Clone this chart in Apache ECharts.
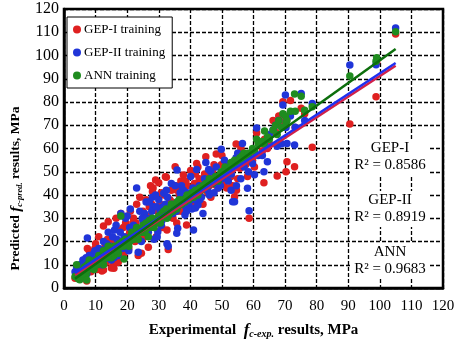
<!DOCTYPE html>
<html>
<head>
<meta charset="utf-8">
<script src="https://cdn.jsdelivr.net/npm/echarts@6/dist/echarts.min.js"></script>
<style>
html,body{margin:0;padding:0;background:#fff;}
#chart{width:474px;height:348px;}
</style>
</head>
<body>
<div id="chart"></div>
<script>
// Experimental compressive strength (x) shared by all three models
const expX = [
  3.5,4,4.5,5,5,5.5,6,6,6.5,7,
  7.2,7.4,7.6,8,8.5,9,9.5,10,10.5,11,
  11.5,12,12.5,12.5,13,13.5,14,14.5,15,15.4,
  15.8,16,16.5,17,17.2,17.5,18,18.5,19,19.5,
  20,20.5,21,21.5,22,22.5,23,23.5,24,24.5,
  25,25.5,26,26.7,27,27.4,28,28.2,28.5,29,
  29.5,29.7,30,30.5,31,31.6,32.1,32.4,32.6,33,
  33.5,34,34.5,35.2,35.7,35.8,36,36.5,37,37.8,
  38.3,38.8,39,39.5,40.1,40.5,41,41.6,42,42.4,
  43,43.5,44,44.9,45.5,46,47,48,48.2,48.8,
  49.5,49.8,50.5,51,52,52.9,53.4,54,54.5,54.6,
  55.7,56.5,57,58.1,58.4,58.6,59.7,59.7,60.3,61,
  61.5,62.8,63.3,63.5,64.4,65,66.2,67,67.5,68,
  68.9,69.3,70.1,70.3,70.6,71.7,73,73.2,75.1,76.2,
  78.6,90.5,98.8,99,105,
  5.8,8.8,10.8,13.2,14.8,16.8,18.8,20.8,22.8,24.8,
  26.5,27.8,29.2,30.8,32.8,34.2,35.5,37.2,38.6,40.8,
  42.8,44.5,46.5,47.5,50,51.5,53,55,56,57.5,
  9.8,13.8,17.8,21.8,25.8,31.3,36.8,41.3,45.8,50.8
];
const gep1Pred = [
  4.2,6,5,8,4,7,10,5,12,9,
  3,17,12.6,16,7,14,10,19,8,22,
  13,7.3,26.7,7.7,18,15,28.5,12,8.6,9.2,
  8.5,21,30,11,11.3,25,32,20,15,28,
  22,17,33,25,30,20,36,14,39,15,
  33,22,38,17.5,35,44,41.5,43,27,46.5,
  33,30,45.3,36,26,40,47.9,47.6,25,16.6,
  38,42,30,52.2,28,42,33,40,46,48.6,
  35,27.1,44,38,50.5,37,42,49,53.6,52,
  40,45,36,56.5,41,44,50,44.3,57.6,43,
  47,53,45,52,46,48,44,39.3,61.9,42,
  51.5,58.2,54,48,49.6,30,55,57,52,66.7,
  63,59,45.3,64,60,62,72,67,48.2,74,
  70,80.1,72,50,54.3,80.6,52.2,69,77.3,75,
  60.5,70.5,82.3,97,109.2,
  6,12,15,11,20,14,26,24,28,21,
  31,36,22,41,34,37,44,33,46,35,
  47,49,39,53,57,43,50,47,60,53,
  17,21,18,28,27,31,38,45,48,49
];
const gep2Pred = [
  7,9,6,10,5,8,12,7,9,13,
  6,21.5,11,14,10,12,15,13,11,17,
  14,10,20,12,16,19,24,15,12,22,
  13,25,27,18,14,20,32,17,22,30,
  31,16,34,21,27,25,43,15.4,33,20,
  29,32,37,24,37,30,39,35,21,40,
  22,24.2,38,33,29,40.7,36,42,19,18,
  35,45,32,44,23.5,50.8,25.7,38,39,42,
  31.4,33,41,36,48,34,25,34.4,51,35.7,
  38,39,32,54,42,40,45,47,52,43,
  44,59.7,50,48,46,42,37.1,37.1,56,44,
  53,62.2,52,42.9,50,33.2,53.6,59.4,48.7,68.8,
  57,57,50,62,54.3,66,68,70,61,72,
  62,78.7,83,69,62.2,74,61.5,69.1,83.7,72,
  79.4,95.9,96,98.5,111.8,
  9,14,12,17,18,21,19,26,22,30,
  25,33,35,27,39,36,33,44,35,43,
  44,47,50,41,47,53,49,58,47,55,
  16,13,24,23,30,35,41,38,51,55
];
const annPred = [
  5,10,4,6,3.5,7,8,5,9,6,
  3.4,10,8,12,9,11,8,12,10,14,
  12,11,16,10,14,13,18,15,13,16,
  14,18,17,16,15,19,31,20,12.5,21,
  19,18,22,24,21,23,26,21,24,25,
  27,24,28,22,29,26,30,27,26,28,
  29,30,31,28,32,33,31,34,30,31,
  32,36,33,35,34,37,35,38,36,38,
  37,39,40,38,40,41,39,42,41,40,
  43,42,44,45,44,47,45,48,47,46,
  49,50,49,52,51,54,52,55,53,54,
  56,57,58,57,58,56,59,60,59,64,
  62,63,62,67.5,65,64,68,70,66,72,
  69,75,74,71,72,76,83.4,76,82.5,76.4,
  78,91.2,97.5,99,110.2,
  6,9,11,13,15,16,18,20,22,24,
  26,27,29,30,32,34,35,36,38,40,
  42,44,45,46,49,50,52,53,55,56,
  10,14,18,21,25,31,36,41,45,50
];
// Trend line end points (x and fitted y)
const fitX = [3.5, 105];
const gep1Fit = [5.6, 95.6];
const gep2Fit = [6.5, 96.8];
const annFit = [4.0, 102.8];

const seriesNames = ['GEP-I training', 'GEP-II training', 'ANN training'];
const r2Labels = [['GEP-I', 'R\u00B2 = 0.8586'], ['GEP-II', 'R\u00B2 = 0.8919'], ['ANN', 'R\u00B2 = 0.9683']];
const axisMin = 0, axisMax = 120, axisStep = 10;

const pair = (xs, ys) => xs.map((x, i) => [x, ys[i]]);
const FONT = '"Liberation Serif", "Times New Roman", serif';

const chart = echarts.init(document.getElementById('chart'), null, {renderer: 'canvas'});

const mkRich = (fs) => ({
  b: {fontFamily: FONT, fontWeight: 'bold', fontSize: fs, color: '#000'},
  f: {fontFamily: FONT, fontWeight: 'bold', fontStyle: 'italic', fontSize: fs + 2, color: '#000'},
  s: {fontFamily: FONT, fontWeight: 'bold', fontStyle: 'italic', fontSize: fs - 5, color: '#000', padding: [7, 0, 0, 0]}
});

const splitStyle = {show: true, lineStyle: {color: '#000', width: 1.3, type: [4, 2]}};

const boxes = [];
const boxTops = [139, 191, 243];
const boxH = [38, 36, 36];
r2Labels.forEach((lab, i) => {
  boxes.push({type: 'rect', shape: {x: 352, y: boxTops[i], width: 76, height: boxH[i]}, style: {fill: '#fff'}, z: 50});
  boxes.push({type: 'text', z: 51, style: {text: lab[0], x: 390, y: boxTops[i] + 9, textAlign: 'center', textVerticalAlign: 'middle', align: 'center', verticalAlign: 'middle', font: '15px "Liberation Serif"', fill: '#000'}});
  boxes.push({type: 'text', z: 51, style: {text: lab[1], x: 390, y: boxTops[i] + 26, textAlign: 'center', textVerticalAlign: 'middle', align: 'center', verticalAlign: 'middle', font: '15px "Liberation Serif"', fill: '#000'}});
});

chart.setOption({
  animation: false,
  backgroundColor: '#fff',
  grid: {left: 59, right: 31, top: 9, bottom: 60, show: true, borderColor: '#000', borderWidth: 2.5, backgroundColor: 'transparent', z: 10},
  legend: {
    data: seriesNames,
    orient: 'vertical', left: 67, top: 17,
    backgroundColor: '#fff', borderColor: '#000', borderWidth: 1,
    padding: [6, 7, 6, 6], itemGap: 10, itemWidth: 8, itemHeight: 8,
    icon: 'circle', z: 60,
    textStyle: {fontFamily: FONT, fontSize: 13, color: '#000', padding: [0, 0, 0, -2]}
  },
  xAxis: {
    type: 'value', min: axisMin, max: axisMax, interval: axisStep,
    name: '{b|Experimental  }{f|f}{s|c-exp.}{b| results, MPa}',
    nameLocation: 'middle', nameGap: 34,
    nameTextStyle: {rich: mkRich(15)},
    axisLine: {show: true, lineStyle: {color: '#000', width: 2.5}},
    axisTick: {show: false},
    axisLabel: {fontFamily: FONT, fontSize: 15, color: '#000', margin: 11},
    splitLine: splitStyle
  },
  yAxis: {
    type: 'value', min: axisMin, max: axisMax, interval: axisStep,
    name: '{b|Predicted }{f|f}{s|c-pred.}{b| results, MPa}',
    nameLocation: 'middle', nameGap: 40,
    nameTextStyle: {rich: mkRich(13.5), padding: [0, 80, 0, 0]},
    axisLine: {show: true, lineStyle: {color: '#000', width: 2.5}},
    axisTick: {show: false},
    axisLabel: {fontFamily: FONT, fontSize: 16, color: '#000', margin: 5},
    splitLine: splitStyle
  },
  graphic: boxes,
  series: [
    {name: seriesNames[0], type: 'scatter', symbolSize: 7.5, data: pair(expX, gep1Pred), itemStyle: {color: '#df2020', opacity: 1}, z: 2},
    {name: seriesNames[1], type: 'scatter', symbolSize: 7.5, data: pair(expX, gep2Pred), itemStyle: {color: '#2035d8', opacity: 1}, z: 3},
    {name: seriesNames[2], type: 'scatter', symbolSize: 7.5, data: pair(expX, annPred), itemStyle: {color: '#1f8c1f', opacity: 1}, z: 4},
    {name: 'GEP-I fit', type: 'line', symbol: 'none', data: pair(fitX, gep1Fit), lineStyle: {color: '#d0204a', width: 2.5}, z: 5},
    {name: 'GEP-II fit', type: 'line', symbol: 'none', data: pair(fitX, gep2Fit), lineStyle: {color: '#1f2ff0', width: 2.5}, z: 6},
    {name: 'ANN fit', type: 'line', symbol: 'none', data: pair(fitX, annFit), lineStyle: {color: '#0c6e0c', width: 2.5}, z: 7}
  ]
});
</script>
</body>
</html>
